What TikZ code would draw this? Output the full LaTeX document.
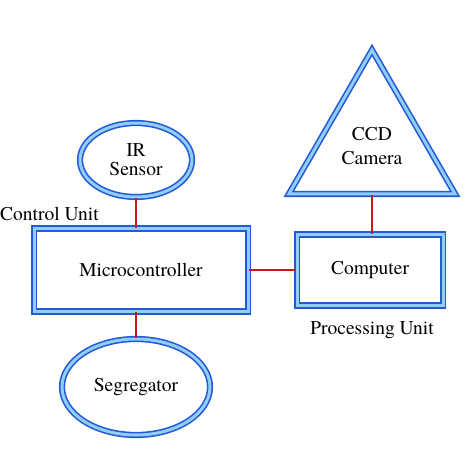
\documentclass[tikz,border=0pt]{standalone}
\usepackage{fontspec}
\setmainfont{TeX Gyre Termes}
\usetikzlibrary{shapes.geometric,shadows}
\definecolor{edgeblue}{RGB}{35,90,215}
\definecolor{bandblue}{RGB}{145,205,245}
\definecolor{linkred}{RGB}{200,25,30}
\begin{document}
\begin{tikzpicture}[x=1pt,y=1pt]
% ----- columns (x) & rows (y) -----
\def\xLeft{136}
\def\xRight{372}
\def\yTop{298}
\def\yMid{188}
\def\yBot{71}

% styles
\tikzset{
  blk/.style={draw=edgeblue,double=bandblue,line width=1.6pt,double distance=3pt,
    fill=white,drop shadow={opacity=0.25,shadow xshift=1.5pt,shadow yshift=-1.5pt},
    font=\rmfamily\fontsize{19.5}{19}\selectfont,align=center,inner sep=0pt},
  unit/.style={rectangle,blk},
  oval/.style={ellipse,blk},
  tri/.style={regular polygon,regular polygon sides=3,blk},
  link/.style={draw=linkred,line width=2.6pt},
  caption/.style={font=\rmfamily\fontsize{19.5}{19}\selectfont,inner sep=0pt}
}

\useasboundingbox (0,0) rectangle (474,458);

% ----- shapes -----
\node[oval,minimum width=112,minimum height=74] (ir) at (\xLeft,\yTop) {IR\\Sensor};
\node[unit,minimum width=214,minimum height=83] (micro) at (141,\yMid) {Microcontroller};
\node[oval,minimum width=148,minimum height=96] (seg) at (\xLeft,\yBot) {Segregator};
\node[unit,minimum width=146,minimum height=71] (comp) at (370,\yMid) {Computer};
\node[tri,minimum size=192,font=\rmfamily\fontsize{19.5}{24}\selectfont] (cam) at (\xRight,312) {CCD\\Camera};

% ----- connectors -----
\draw[link] (ir.south) -- (ir.south |- micro.north);
\draw[link] (micro.south -| seg.north) -- (seg.north);
\draw[link] (micro.east) -- (comp.west);
\draw[link] (cam.south) -- (cam.south |- comp.north);

% ----- unit labels -----
\node[caption,anchor=west] (ctrl) at (0,244) {Control Unit};
\node[caption] (proc) at (\xRight,128) {Processing Unit};
\end{tikzpicture}
\end{document}
